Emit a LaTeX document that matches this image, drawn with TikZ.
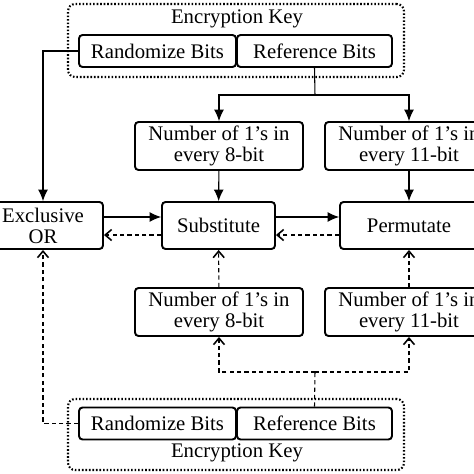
\documentclass[tikz,border=0pt]{standalone}
\usepackage{fontspec}
\setmainfont{Liberation Serif}
\usetikzlibrary{arrows.meta}

\begin{document}
\begin{tikzpicture}[x=0.02cm,y=-0.02cm,
    box/.style={draw,line width=1.1pt,rounded corners=2pt,inner sep=0pt,align=center,
      font=\fontsize{11.8}{12}\selectfont},
    keybox/.style={draw,line width=1.2pt,dash pattern=on 0.9pt off 1.1pt,rounded corners=4pt,inner sep=0pt},
    flow/.style={line width=0.6pt,-{Latex[length=2.3mm,width=2mm]}},
    back/.style={line width=0.6pt,dash pattern=on 2.4pt off 1.8pt,-{Straight Barb[length=1.3mm,width=2.2mm,line width=0.9pt]}}]
  \useasboundingbox (0,0) rectangle (474,474);
  \clip (0,0) rectangle (474,474);
  % Encryption key on top
  \node[keybox,minimum width=6.72cm,minimum height=1.46cm] (keyTop) at (236,40.5) {};
  \node[font=\fontsize{11.8}{12}\selectfont] (keyTopLbl) at (237,19) {Encryption Key};
  \node[box,minimum width=3.14cm,minimum height=0.64cm] (rbTop) at (157.5,51) {Randomize Bits};
  \node[box,minimum width=3.10cm,minimum height=0.64cm] (refTop) at (314.5,51) {Reference Bits};
  % counting boxes (upper row)
  \node[box,minimum width=3.36cm,minimum height=0.96cm] (cntA) at (219,146) {Number of 1’s in\\every 8-bit};
  \node[box,minimum width=3.36cm,minimum height=0.96cm] (cntB) at (409,146) {Number of 1’s in\\every 11-bit};
  % main row
  \node[box,minimum width=2.4cm,minimum height=0.94cm] (xor) at (43,225.5) {Exclusive\\OR};
  \node[box,minimum width=2.26cm,minimum height=0.94cm] (subst) at (218.5,225.5) {Substitute};
  \node[box,minimum width=2.76cm,minimum height=0.94cm] (perm) at (409,225.5) {Permutate};
  % counting boxes (lower row)
  \node[box,minimum width=3.36cm,minimum height=0.96cm] (cntC) at (219,312) {Number of 1’s in\\every 8-bit};
  \node[box,minimum width=3.36cm,minimum height=0.96cm] (cntD) at (409,312) {Number of 1’s in\\every 11-bit};
  % Encryption key at the bottom
  \node[keybox,minimum width=6.72cm,minimum height=1.42cm] (keyBot) at (236,434.5) {};
  \node[box,minimum width=3.14cm,minimum height=0.64cm] (rbBot) at (157.5,423.5) {Randomize Bits};
  \node[box,minimum width=3.10cm,minimum height=0.64cm] (refBot) at (314.5,423.5) {Reference Bits};
  \node[font=\fontsize{11.8}{12}\selectfont] (keyBotLbl) at (237,453) {Encryption Key};
  % forward path (solid)
  \coordinate (splitT) at (315,95);
  \draw[line width=0.6pt] (refTop.south) -- (splitT);
  \draw[flow] (splitT) -| (cntA.north);
  \draw[flow] (splitT) -| (cntB.north);
  \draw[flow] (rbTop.west) -| (xor.north);
  \draw[flow] (cntA) -- (subst);
  \draw[flow] (cntB) -- (perm);
  \draw[flow] (xor.east |- 0,217) -- (subst.west |- 0,217);
  \draw[flow] (subst.east |- 0,217) -- (perm.west |- 0,217);
  % backward path (dashed)
  \draw[back] (perm.west |- 0,235) -- (subst.east |- 0,235);
  \draw[back] (subst.west |- 0,235) -- (xor.east |- 0,235);
  \draw[back] (cntC) -- (subst);
  \draw[back] (cntD) -- (perm);
  \coordinate (splitB) at (315,372);
  \draw[line width=0.6pt,dash pattern=on 2.4pt off 1.8pt] (refBot.north) -- (splitB);
  \draw[back] (splitB) -| (cntC.south);
  \draw[back] (splitB) -| (cntD.south);
  \draw[back] (rbBot.west) -| (xor.south);
\end{tikzpicture}
\end{document}
